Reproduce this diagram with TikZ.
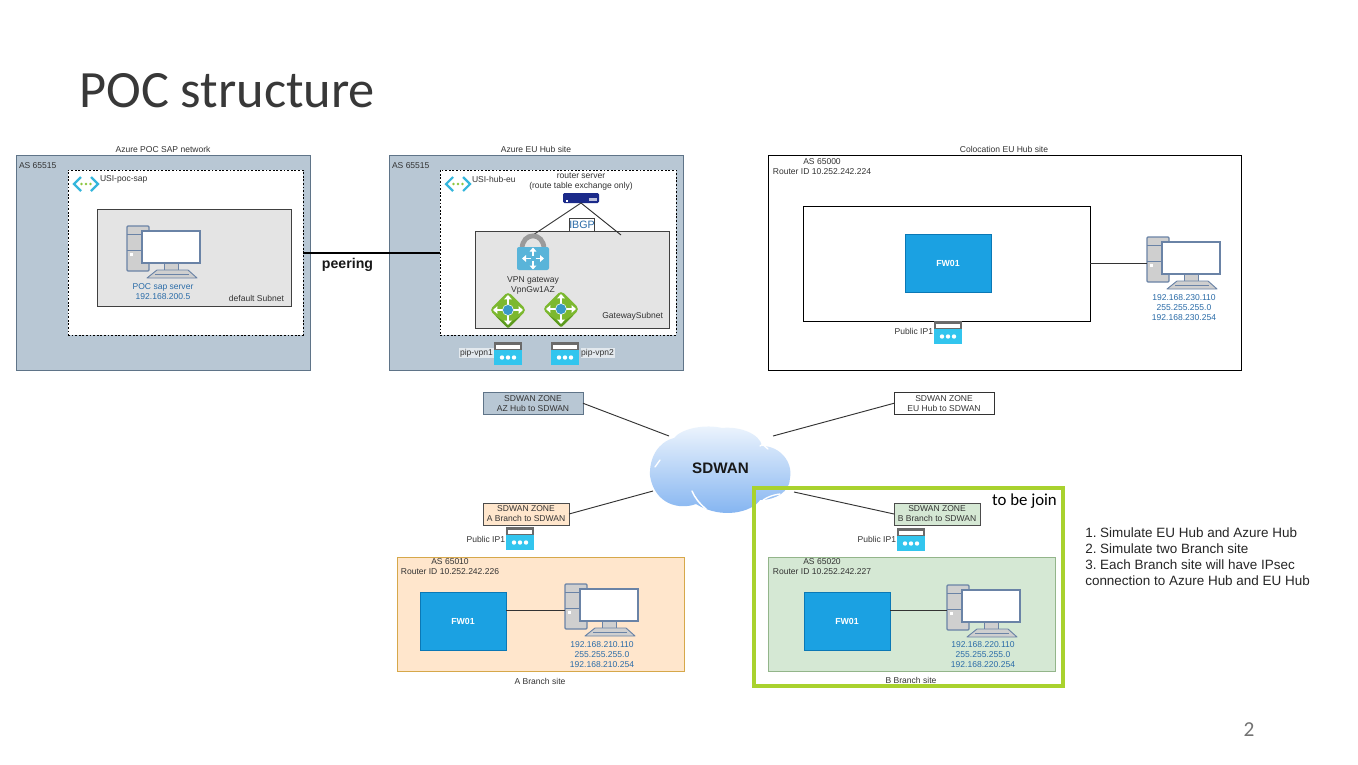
\documentclass[tikz,border=0pt]{standalone}
\usepackage{fontspec}
\setmainfont{Liberation Sans}
\newfontfamily\carlito{Carlito}
\usetikzlibrary{arrows.meta}
\definecolor{siteblue}{HTML}{B8C7D4}
\definecolor{siteedge}{HTML}{5F7488}
\definecolor{subnetgray}{HTML}{E4E4E4}
\definecolor{ipblue}{HTML}{2B6CA8}
\definecolor{fwblue}{HTML}{1BA1E2}
\definecolor{fwedge}{HTML}{0B78B5}
\definecolor{pcedge}{HTML}{6A83A6}
\definecolor{pcgray}{HTML}{CFCFCF}
\definecolor{pipcyan}{HTML}{32C5EE}
\definecolor{pipgray}{HTML}{6A6A6A}
\definecolor{gwgreen}{HTML}{7CB82F}
\definecolor{gwgreendk}{HTML}{5C9A1E}
\definecolor{gwblue}{HTML}{3999C6}
\definecolor{lockblue}{HTML}{59B4D9}
\definecolor{lockgray}{HTML}{9A9A9A}
\definecolor{navy}{HTML}{1B2A8A}
\definecolor{orangefill}{HTML}{FFE6CC}
\definecolor{orangeedge}{HTML}{D6A84A}
\definecolor{greenfill}{HTML}{D5E8D4}
\definecolor{greenedge}{HTML}{93B58A}
\definecolor{limeedge}{HTML}{A9D22E}
\definecolor{chev}{HTML}{35B6DC}
\definecolor{dots}{HTML}{8CC63F}
\definecolor{txt}{HTML}{333333}
\definecolor{cloudtop}{HTML}{EEF5FD}
\definecolor{cloudmid}{HTML}{B9D5F7}
\definecolor{cloudbot}{HTML}{7DB0F0}
\newcommand{\bx}[7]{%
  \pgfmathsetmacro\bw{(#5-#3)*0.75}\pgfmathsetmacro\bh{(#6-#4)*0.75}%
  \node[#2,minimum width=\bw pt,minimum height=\bh pt,inner sep=0pt,outer sep=0pt,align=center] (#1) at ({(#3+#5)/2},{(#4+#6)/2}) {#7};}
\tikzset{
  x=0.75pt,y=-0.75pt,
  lbl/.style={inner sep=0pt,outer sep=0pt,align=center,text=txt,font=\fontsize{6.4}{7.5}\selectfont},
  iplbl/.style={lbl,text=ipblue},
  site/.style={draw=siteedge,fill=siteblue,line width=0.7pt},
  vnet/.style={draw=black,fill=white,line width=0.7pt,dash pattern=on 1.4pt off 1.3pt},
  subnet/.style={draw=black!75,fill=subnetgray,line width=0.6pt},
  fwbox/.style={draw=fwedge,fill=fwblue,line width=0.6pt,text=white,font=\fontsize{6.6}{7.5}\selectfont\bfseries},
  zone/.style={line width=0.6pt,text=txt,font=\fontsize{6.4}{7.5}\selectfont},
  wire/.style={draw=black!80,line width=0.7pt},
  pics/pcicon/.style={code={
    \draw[pcedge,fill=pcgray,line width=0.9pt,rounded corners=0.8pt] (0,0) rectangle (22,45);
    \draw[pcedge,line width=0.7pt] (0,8) -- (15,8) (0,24) -- (15,24);
    \fill[white] (3,27) rectangle (6,30);
    \draw[pcedge,fill=pcgray,line width=0.7pt] (37,37) rectangle (51,44);
    \draw[pcedge,fill=white,line width=1.2pt] (15,5) rectangle (73,37);
    \draw[pcedge,fill=pcgray,line width=0.7pt,line join=round] (30,44) -- (61,44) -- (70,52) -- (20,52) -- cycle;
    \draw[pcedge,line width=0.7pt] (28,48) -- (62,48);
  }},
  pics/pipicon/.style={code={
    \fill[pipcyan] (0,0) rectangle (28,23);
    \fill[pipgray] (0,0) rectangle (28,8);
    \fill[white] (2,2.5) rectangle (26,7);
    \fill[white] (8,15.5) circle (2.2) (14,15.5) circle (2.2) (20,15.5) circle (2.2);
  }},
  pics/gwicon/.style={code={
    \fill[gwgreen,rounded corners=3pt] (0,-18.5) -- (18.5,0) -- (0,18.5) -- (-18.5,0) -- cycle;
    \fill[gwgreendk,rounded corners=1pt] (-13,5.5) -- (0,18.5) -- (13,5.5) -- (0,14) -- cycle;
    \draw[white,line width=1.7pt,{Triangle[length=3.2pt,width=5.5pt]}-{Triangle[length=3.2pt,width=5.5pt]}] (-15,0) -- (15,0);
    \draw[white,line width=1.7pt,{Triangle[length=3.2pt,width=5.5pt]}-{Triangle[length=3.2pt,width=5.5pt]}] (0,-15) -- (0,15);
    \fill[gwblue,draw=white,line width=0.4pt] (0,0) circle (5.5);
  }},
  pics/lockicon/.style={code={
    \draw[lockgray,line width=3.6pt] (-11,14) .. controls (-11,-3.5) and (11,-3.5) .. (11,14);
    \fill[lockblue,rounded corners=1.5pt] (-16,12) rectangle (16,35);
    \foreach \a in {0,90,180,270}{
      \draw[white,line width=1.3pt,rotate around={\a:(0,23.5)},-{Triangle[length=3pt,width=5pt]}] (2.5,23.5) -- (11,23.5);
    }
  }},
  pics/vneticon/.style={code={
    \draw[chev,line width=1.6pt] (-5,-7) -- (-12,0) -- (-5,7) (5,-7) -- (12,0) -- (5,7);
    \fill[dots] (-4.5,0) circle (1.4) (0,0) circle (1.4) (4.5,0) circle (1.4);
  }}
}
\begin{document}
\begin{tikzpicture}
\fill[white] (0,0) rectangle (1358,764);
\useasboundingbox (0,0) rectangle (1358,764);

% title, page number, notes
\node[inner sep=0pt,text=black!78,font=\carlito\fontsize{39.3}{42}\selectfont,anchor=west] (title) at (79,91) {POC structure};
\node[inner sep=0pt,text=black!55,font=\carlito\fontsize{16}{18}\selectfont] (pageno) at (1249,730) {2};
\node[inner sep=0pt,anchor=north west,align=left,text=black!85,font=\frenchspacing\fontsize{10.1}{12}\selectfont] (notes) at (1085,527) {1. Simulate EU Hub and Azure Hub\\2. Simulate two Branch site\\3. Each Branch site will have IPsec\\connection to Azure Hub and EU Hub};

% Azure POC SAP network
\node[lbl] (t1) at (163,149) {Azure POC SAP network};
\bx{s1}{site}{16}{155}{310}{370}{}
\node[lbl,anchor=west] (as1) at (19,166) {AS 65515};
\bx{vn1}{vnet}{68}{170}{303}{335}{}
\pic at (86,184) {vneticon};
\node[lbl,anchor=west] (vl1) at (100,179) {USI-poc-sap};
\bx{sn1}{subnet}{97}{209}{291}{306}{}
\pic at (127,226) {pcicon};
\node[iplbl] (pl1) at (163,292) {POC sap server\\192.168.200.5};
\node[lbl,anchor=east] (sl1) at (284,298) {default Subnet};

% Azure EU Hub site
\node[lbl] (t2) at (536,149) {Azure EU Hub site};
\bx{s2}{site}{389}{155}{683}{370}{}
\node[lbl,anchor=west] (as2) at (392,166) {AS 65515};
\bx{vn2}{vnet}{440}{170}{676}{335}{}
\pic at (458,184) {vneticon};
\node[lbl,anchor=west] (vl2) at (472,179) {USI-hub-eu};
\node[lbl] (rs) at (581,181.5) {router server\\[0.4pt](route table exchange only)};
\bx{rt}{draw=none,fill=navy,rounded corners=1pt}{563}{193}{599}{203}{}
\fill[white] (566,200) rectangle (568,202);
\fill[white!70!navy] (589,198) rectangle (597,201);
\bx{ibgp}{draw=black!75,fill=white,line width=0.5pt,text=ipblue,font=\fontsize{8}{9}\selectfont}{570}{218}{594}{232}{IBGP}
\bx{sn2}{subnet}{475}{231}{669}{328}{}
\coordinate (bgpL) at (533,235);
\coordinate (bgpR) at (621,235);
\draw[wire] (rt.south) -- (bgpL);
\draw[wire] (rt.south) -- (bgpR);
\pic at (533,235) {lockicon};
\node[lbl] (vg) at (533,285) {VPN gateway\\VpnGw1AZ};
\pic at (508,310) {gwicon};
\pic at (561,309) {gwicon};
\node[lbl,anchor=east] (sl2) at (663,316) {GatewaySubnet};
\pic at (494,342) {pipicon};
\pic at (551,342) {pipicon};
\node[lbl,anchor=east,fill=white!60!siteblue,inner sep=0.5pt] (pv1) at (493.5,353) {pip-vpn1};
\node[lbl,anchor=west,fill=white!60!siteblue,inner sep=0.5pt] (pv2) at (580.5,353) {pip-vpn2};

% peering
\draw[black,line width=1.5pt] (vn1.east) -- (vn2.west);
\node[inner sep=0pt,font=\fontsize{10.6}{12}\selectfont\bfseries,text=black!90] (peer) at (347.5,265) {peering};

% Colocation EU Hub site
\node[lbl] (t3) at (1004,149) {Colocation EU Hub site};
\bx{s3}{draw=black,fill=white,line width=0.6pt}{768}{155}{1241}{370}{}
\node[lbl] (as3) at (822,166.5) {AS 65000\\Router ID 10.252.242.224};
\bx{in3}{draw=black,fill=white,line width=0.6pt}{803}{206}{1090}{321}{}
\bx{fw3}{fwbox}{905}{234}{991}{292}{FW01}
\bx{pc3}{draw=none}{1147}{237}{1220}{289}{}
\pic at (1147,237) {pcicon};
\draw[wire] (in3.east) -- (in3.east -| pc3.west);
\node[iplbl] (ip3) at (1184,308) {192.168.230.110\\255.255.255.0\\192.168.230.254};
\pic at (934,321) {pipicon};
\node[lbl,anchor=east] (pub3) at (933,331) {Public IP1};

% SDWAN cloud
\shade[top color=cloudtop,middle color=cloudmid,bottom color=cloudbot]
  (650,476) .. controls (649,458) and (658,442) .. (674,438)
  .. controls (682,428) and (706,424) .. (722,428)
  .. controls (740,426) and (760,434) .. (762,446)
  .. controls (780,446) and (793,462) .. (790,478)
  .. controls (790,492) and (775,500) .. (760,500)
  .. controls (752,512) and (722,520) .. (696,504)
  .. controls (680,510) and (655,505) .. (650,476) -- cycle;
\draw[white,line width=1.1pt,line cap=round] (692,491) .. controls (695,498) and (699,503) .. (706,509);
\draw[white,line width=1pt,line cap=round] (655,467) -- (660,460);
\draw[white,line width=1pt,line cap=round] (760,446) .. controls (763,443) and (764,446) .. (768,449);
\draw[white,line width=1pt,line cap=round] (763,500) .. controls (768,497) and (772,495) .. (780,494);
\node[inner sep=0pt,font=\fontsize{11.4}{13}\selectfont\bfseries,text=black!90] (sdwan) at (720.5,468) {SDWAN};

% SDWAN zones
\bx{zaz}{zone,draw=siteedge,fill=siteblue}{483}{392.5}{583}{414}{SDWAN ZONE\\AZ Hub to SDWAN}
\bx{zeu}{zone,draw=black!80,fill=white}{894}{392.5}{994}{414}{SDWAN ZONE\\EU Hub to SDWAN}
\bx{za}{zone,draw=black!70,fill=orangefill}{483}{503}{569}{525}{SDWAN ZONE\\A Branch to SDWAN}
\bx{zb}{zone,draw=black!70,fill=greenfill}{894}{503}{980}{525}{SDWAN ZONE\\B Branch to SDWAN}
\coordinate (caz) at (669,436);
\coordinate (ceu) at (773,436);
\coordinate (ca) at (653,491);
\coordinate (cb) at (794,492);
\draw[wire] (zaz.east) -- (caz);
\draw[wire] (zeu.west) -- (ceu);
\draw[wire] (za.east) -- (ca);
\draw[wire] (zb.west) -- (cb);

% A Branch site
\pic at (506,527) {pipicon};
\node[lbl,anchor=east] (pubA) at (505,539) {Public IP1};
\bx{sa}{draw=orangeedge,fill=orangefill,line width=0.7pt}{397}{557}{684}{671}{}
\node[lbl] (asA) at (450,567) {AS 65010\\Router ID 10.252.242.226};
\bx{fwA}{fwbox}{420}{592}{506}{650}{FW01}
\bx{pcA}{draw=none}{565}{584}{638}{636}{}
\pic at (565,584) {pcicon};
\draw[wire] ([yshift=8.25pt]fwA.east) -- ([yshift=8.25pt]fwA.east -| pcA.west);
\node[iplbl] (ipA) at (602,655) {192.168.210.110\\255.255.255.0\\192.168.210.254};
\node[lbl] (tA) at (540,681) {A Branch site};

% B Branch site
\pic at (897,528) {pipicon};
\node[lbl,anchor=east] (pubB) at (896,539) {Public IP1};
\bx{sb}{draw=greenedge,fill=greenfill,line width=0.7pt}{768}{557}{1055}{671}{}
\node[lbl] (asB) at (822,567) {AS 65020\\Router ID 10.252.242.227};
\bx{fwB}{fwbox}{804}{592}{890}{650}{FW01}
\bx{pcB}{draw=none}{947}{585}{1020}{637}{}
\pic at (947,585) {pcicon};
\draw[wire] ([yshift=8.25pt]fwB.east) -- ([yshift=8.25pt]fwB.east -| pcB.west);
\node[iplbl] (ipB) at (983,655) {192.168.220.110\\255.255.255.0\\192.168.220.254};
\node[lbl] (tB) at (911,680) {B Branch site};

% to be joined frame
\bx{frame}{draw=limeedge,line width=2.6pt}{754}{488}{1063}{686}{}
\node[inner sep=0pt,font=\carlito\fontsize{12.6}{14}\selectfont,text=black] (join) at (1024.5,501) {to be join};
\end{tikzpicture}
\end{document}
